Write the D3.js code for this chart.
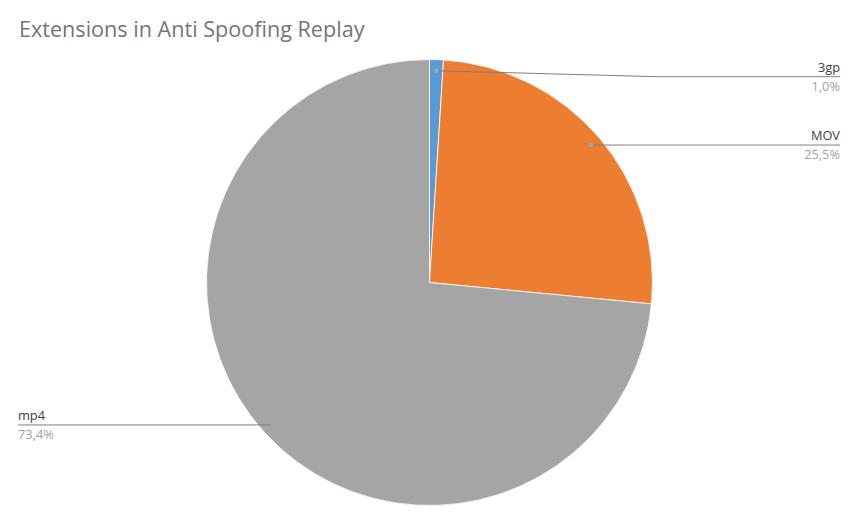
<!DOCTYPE html>
<html lang="en">
<head>
    <meta charset="UTF-8">
    <title>Extensions in Anti Spoofing Replay</title>
    <script src="https://d3js.org/d3.v7.min.js"></script>
    <style>
        body { margin: 0; background: #fff; }
        text { font-family: "Open Sans", "Noto Sans", sans-serif; }
        .title { fill: #757575; font-size: 21.6px; }
        .name { fill: #404040; font-size: 12.8px; }
        .pct { fill: #a0a0a0; font-size: 12.8px; }
    </style>
</head>
<body>
    <svg width="858" height="521"></svg>
    <script>
        const categories = ["3gp", "MOV", "mp4"];
        const values = [1.0, 25.5, 73.4];
        const colors = ["#5b9bd5", "#ed7d31", "#a5a5a5"];

        const svg = d3.select("svg");
        const cx = 429.5, cy = 282.5, radius = 223;

        svg.append("text")
           .attr("class", "title")
           .attr("x", 19)
           .attr("y", 37)
           .text("Extensions in Anti Spoofing Replay");

        const data = categories.map((c, i) => ({ name: c, value: values[i], color: colors[i] }));
        const pie = d3.pie().sort(null).value(d => d.value);
        const arcs = pie(data);
        const arc = d3.arc().innerRadius(0).outerRadius(radius);
        const dotArc = d3.arc().innerRadius(radius * 0.95).outerRadius(radius * 0.95);

        const g = svg.append("g").attr("transform", `translate(${cx},${cy})`);
        g.selectAll("path")
         .data(arcs)
         .enter().append("path")
         .attr("d", arc)
         .attr("fill", d => d.data.color)
         .attr("stroke", "#fff")
         .attr("stroke-width", 0.8);

        // label placement (name above line, percent below)
        const labelPos = [
            { x: 840, lineY: 76.7, anchor: "end", elbowX: 657 },
            { x: 840, lineY: null, anchor: "end", elbowX: null },
            { x: 18, lineY: null, anchor: "start", elbowX: null }
        ];
        const fmt = v => d3.format(".1f")(v).replace(".", ",") + "%";

        arcs.forEach((a, i) => {
            const [dx, dy] = dotArc.centroid(a);
            const px = cx + dx, py = cy + dy;
            const lp = labelPos[i];
            const ly = lp.lineY === null ? py : lp.lineY;
            const pts = [[px, py]];
            if (lp.elbowX !== null) pts.push([lp.elbowX, ly]);
            pts.push([lp.x, ly]);
            svg.append("path")
               .attr("d", d3.line()(pts))
               .attr("fill", "none")
               .attr("stroke", "#7f7f7f")
               .attr("stroke-width", 1);
            svg.append("circle")
               .attr("cx", px).attr("cy", py).attr("r", 2.2)
               .attr("fill", "#a5a5a5");
            svg.append("text")
               .attr("class", "name")
               .attr("x", lp.x).attr("y", ly - 5)
               .attr("text-anchor", lp.anchor)
               .text(a.data.name);
            svg.append("text")
               .attr("class", "pct")
               .attr("x", lp.x).attr("y", ly + 14)
               .attr("text-anchor", lp.anchor)
               .text(fmt(a.data.value));
        });
    </script>
</body>
</html>
